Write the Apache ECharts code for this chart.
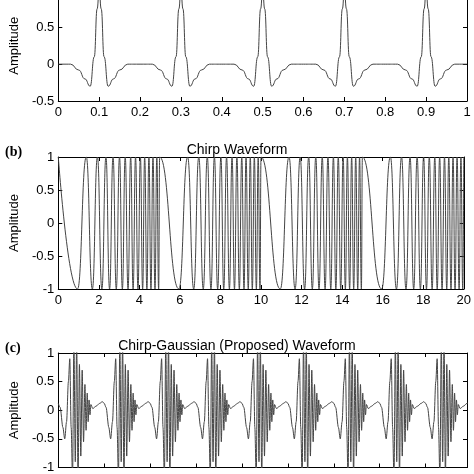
<!DOCTYPE html>
<html>
<head>
<meta charset="utf-8">
<script src="https://cdn.jsdelivr.net/npm/echarts@6/dist/echarts.min.js"></script>
<style>
  html, body { margin: 0; padding: 0; background: #fff; overflow: hidden; }
  #wrap { width: 474px; height: 474px; overflow: hidden; position: relative; }
  #chart { width: 474px; height: 490px; position: absolute; top: -16px; left: 0; }
</style>
</head>
<body>
<div id="wrap"><div id="chart"></div></div>
<script>
// (a) pulse shape, read around one pulse centre, and the pulse centres
var pulseOffsets = [-0.1, -0.07, -0.05, -0.035, -0.022, -0.012, -0.005, 0, 0.005, 0.012, 0.022, 0.035, 0.05, 0.07];
var pulseValues  = [0, 0, -0.08, -0.2, -0.3, 0.1, 0.75, 1, 0.75, 0.1, -0.3, -0.2, -0.08, 0];
var pulseCentres = [0.1, 0.3, 0.5, 0.7, 0.9];

// (b) chirp extrema within one sweep, and sweep starts
var chirpTimes  = [0, 0.95, 1.38, 1.68, 1.93, 2.15, 2.35, 2.53, 2.70, 2.86, 3.02, 3.16, 3.30, 3.44,
                   3.57, 3.69, 3.81, 3.93, 4.05, 4.16, 4.26, 4.37, 4.47, 4.57, 4.67, 4.77, 4.86, 4.95];
var chirpValues = [1, -1, 1, -1, 1, -1, 1, -1, 1, -1, 1, -1, 1, -1,
                   1, -1, 1, -1, 1, -1, 1, -1, 1, -1, 1, -1, 1, -1];
var sweepStarts = [0, 5, 10, 15];

// (c) one chirp-gaussian burst (phase within period), and burst starts
var burstPhases = [0.00, 0.04, 0.10, 0.14, 0.18, 0.22, 0.25, 0.28, 0.31, 0.34, 0.37, 0.40, 0.43, 0.46,
                   0.49, 0.52, 0.55, 0.58, 0.605, 0.63, 0.65, 0.67, 0.69, 0.71, 0.75, 0.82, 0.90, 0.96];
var burstValues = [0.12, 0.05, -0.3, -0.5, -0.2, 0.5, 0.9, -0.3, -1.2, 1.2, -0.9, 1.2, -1.2, 0.8,
                   -0.8, 0.7, -0.55, 0.45, -0.35, 0.3, -0.2, 0.18, -0.08, 0.1, 0.03, 0.07, 0.12, 0.15];
var burstStarts = [0, 1, 2, 3, 4, 5, 6, 7, 8];

function repeatShape(starts, xs, ys) {
    var out = [];
    starts.forEach(function (s) {
        xs.forEach(function (x, i) { out.push([s + x, ys[i]]); });
    });
    return out;
}

var pulseData = repeatShape(pulseCentres, pulseOffsets, pulseValues);
pulseData.push([1, 0]);
var chirpData = repeatShape(sweepStarts, chirpTimes, chirpValues);
chirpData.push([20, 1]);
var burstData = repeatShape(burstStarts, burstPhases, burstValues);

var font = 'Liberation Sans';
var lineColor = '#444';
var dy = 16; // chart canvas is shifted up so the top of panel (a) is cut off

var grids = [
    { left: 45, right: 7, top: -16 + dy, height: 117 },
    { left: 45, right: 7, top: 157 + dy, height: 132 },
    { left: 45, right: 7, top: 353 + dy, height: 117 }
];

function xAx(gi, min, max, interval, labels, fmt) {
    return [{
        gridIndex: gi, type: 'value', min: min, max: max, interval: interval,
        axisLine: { show: true, onZero: false, lineStyle: { color: '#000' } },
        axisTick: { show: true, inside: true, length: 4, lineStyle: { color: '#000' } },
        axisLabel: { show: labels, color: '#000', fontFamily: font, fontSize: 13, margin: 5, formatter: fmt },
        splitLine: { show: false }
    }, {
        gridIndex: gi, type: 'value', position: 'top', min: min, max: max, interval: interval,
        axisLine: { show: true, onZero: false, lineStyle: { color: '#000' } },
        axisTick: { show: true, inside: true, length: 4, lineStyle: { color: '#000' } },
        axisLabel: { show: false }, splitLine: { show: false }
    }];
}

function yAx(gi, min, max) {
    return [{
        gridIndex: gi, type: 'value', min: min, max: max, interval: 0.5,
        name: 'Amplitude', nameLocation: 'middle', nameGap: 30,
        nameTextStyle: { color: '#000', fontFamily: font, fontSize: 13 },
        axisLine: { show: true, onZero: false, lineStyle: { color: '#000' } },
        axisTick: { show: true, inside: true, length: 4, lineStyle: { color: '#000' } },
        axisLabel: { color: '#000', fontFamily: font, fontSize: 13, margin: 4 },
        splitLine: { show: false }
    }, {
        gridIndex: gi, type: 'value', position: 'right', min: min, max: max, interval: 0.5,
        axisLine: { show: true, onZero: false, lineStyle: { color: '#000' } },
        axisTick: { show: true, inside: true, length: 4, lineStyle: { color: '#000' } },
        axisLabel: { show: false }, splitLine: { show: false }
    }];
}

var xAxes = [].concat(
    xAx(0, 0, 1, 0.1, true, function (v) { return String(+v.toFixed(1)); }),
    xAx(1, 0, 20, 2, true),
    xAx(2, 0, 8.9, 1, false)
);
var yAxes = [].concat(yAx(0, -0.5, 1), yAx(1, -1, 1), yAx(2, -1, 1));

function lineSeries(xi, yi, data, smooth) {
    return {
        type: 'line', xAxisIndex: xi, yAxisIndex: yi, data: data,
        showSymbol: false, smooth: smooth, smoothMonotone: 'x', clip: true,
        lineStyle: { color: lineColor, width: 1 }, animation: false
    };
}

var titleStyle = { fontFamily: font, fontSize: 14, fontWeight: 'normal', color: '#000' };
var tagStyle = { fontFamily: 'Liberation Serif', fontSize: 14, fontWeight: 'bold', color: '#000' };

var chart = echarts.init(document.getElementById('chart'));
chart.setOption({
    backgroundColor: '#fff',
    animation: false,
    grid: grids,
    title: [
        { text: 'Chirp Waveform', left: 'center', top: 138 + dy, textStyle: titleStyle },
        { text: 'Chirp-Gaussian (Proposed) Waveform', left: 'center', top: 334 + dy, textStyle: titleStyle },
        { text: '(b)', left: 0, top: 140 + dy, textStyle: tagStyle },
        { text: '(c)', left: 0, top: 336 + dy, textStyle: tagStyle }
    ],
    xAxis: xAxes,
    yAxis: yAxes,
    series: [
        lineSeries(0, 0, pulseData, 0.5),
        lineSeries(2, 2, chirpData, 0.5),
        lineSeries(4, 4, burstData, 0.3)
    ]
});
</script>
</body>
</html>
